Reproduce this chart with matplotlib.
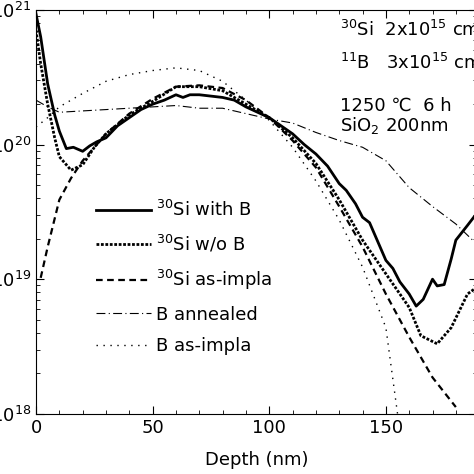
import matplotlib
matplotlib.use("Agg")
import matplotlib.pyplot as plt
import numpy as np
from matplotlib.ticker import MultipleLocator, LogLocator, NullFormatter

si_b_x = [0, 2, 5, 8, 10, 13, 16, 20, 23, 26, 30, 35, 40, 45, 50, 55, 60, 63, 66, 70, 75, 80, 85, 90, 95, 100, 105, 110, 115, 120, 125, 130, 133, 137, 140, 143, 147, 150, 153, 156, 160, 163, 166, 170, 172, 175, 178, 180, 185, 189]
si_b_y = [20.97, 20.8, 20.45, 20.22, 20.1, 19.97, 19.98, 19.95, 19.99, 20.02, 20.05, 20.14, 20.2, 20.26, 20.3, 20.33, 20.37, 20.35, 20.37, 20.37, 20.36, 20.35, 20.33, 20.28, 20.24, 20.2, 20.14, 20.08, 20.0, 19.93, 19.84, 19.71, 19.66, 19.56, 19.46, 19.42, 19.26, 19.14, 19.08, 18.98, 18.89, 18.8, 18.85, 19.0, 18.95, 18.96, 19.15, 19.29, 19.4, 19.49]
si_nob_x = [0, 2, 5, 8, 10, 15, 20, 25, 30, 40, 50, 60, 70, 80, 90, 100, 110, 120, 130, 140, 150, 160, 165, 172, 178, 185, 189]
si_nob_y = [20.85, 20.6, 20.3, 20.05, 19.91, 19.81, 19.85, 19.98, 20.08, 20.22, 20.32, 20.43, 20.43, 20.4, 20.3, 20.2, 20.05, 19.86, 19.59, 19.29, 19.04, 18.79, 18.58, 18.52, 18.64, 18.89, 18.94]
si_imp_x = [2, 5, 10, 15, 20, 25, 30, 40, 50, 60, 70, 80, 90, 100, 110, 120, 130, 140, 150, 160, 170, 180]
si_imp_y = [19.01, 19.24, 19.59, 19.75, 19.88, 19.98, 20.08, 20.23, 20.34, 20.43, 20.44, 20.42, 20.33, 20.2, 20.03, 19.83, 19.54, 19.24, 18.89, 18.57, 18.27, 18.05]
b_ann_x = [0, 5, 10, 20, 40, 60, 70, 80, 90, 100, 110, 120, 130, 140, 150, 160, 170, 180, 189]
b_ann_y = [20.33, 20.28, 20.24, 20.25, 20.27, 20.29, 20.27, 20.27, 20.23, 20.19, 20.16, 20.09, 20.03, 19.98, 19.88, 19.68, 19.54, 19.41, 19.26]
b_imp_x = [0, 5, 10, 20, 30, 40, 50, 60, 70, 80, 90, 100, 110, 120, 130, 140, 150, 155]
b_imp_y = [20.13, 20.2, 20.28, 20.38, 20.47, 20.52, 20.55, 20.57, 20.55, 20.47, 20.33, 20.18, 19.98, 19.73, 19.44, 19.09, 18.64, 18.0]

fig = plt.figure(figsize=(4.74, 4.74), dpi=100)
ax = fig.add_axes([0.076, 0.127, 0.93, 0.852])
p = lambda v: 10 ** np.array(v)
ax.plot(si_b_x, p(si_b_y), 'k-', lw=2, label=r'$^{30}$Si with B')
ax.plot(si_nob_x, p(si_nob_y), 'k', ls=(0, (1, 0.6)), lw=2, label=r'$^{30}$Si w/o B')
ax.plot(si_imp_x, p(si_imp_y), 'k', ls=(0, (3, 2)), lw=1.6, label=r'$^{30}$Si as-impla')
ax.plot(b_ann_x, p(b_ann_y), 'k', ls=(0, (8, 3, 1, 3)), lw=0.8, label='B annealed')
ax.plot(b_imp_x, p(b_imp_y), 'k', ls=(0, (1, 4)), lw=1, label='B as-impla')
ax.set_yscale('log')
ax.set_xlim(0, 189)
ax.set_ylim(1e18, 1e21)
ax.xaxis.set_major_locator(MultipleLocator(50))
ax.xaxis.set_minor_locator(MultipleLocator(10))
ax.yaxis.set_minor_locator(LogLocator(subs=np.arange(2, 10)))
ax.yaxis.set_minor_formatter(NullFormatter())
ax.tick_params(which='both', direction='in', top=True, right=True, labelsize=13)
ax.tick_params(which='major', length=6)
ax.tick_params(which='minor', length=3)
ax.set_xlabel('Depth (nm)', fontsize=13, labelpad=10)
ax.legend(loc='upper left', bbox_to_anchor=(0.1, 0.57), frameon=False, fontsize=13,
          handlelength=3.0, handletextpad=0.3, labelspacing=0.75)
ax.text(0.69, 0.935, r'$^{30}$Si  2x10$^{15}$ cm$^{-2}$', transform=ax.transAxes, fontsize=13)
ax.text(0.69, 0.855, r'$^{11}$B   3x10$^{15}$ cm$^{-2}$', transform=ax.transAxes, fontsize=13)
ax.text(0.69, 0.75, '1250 ℃  6 h', transform=ax.transAxes, fontsize=13)
ax.text(0.69, 0.7, r'SiO$_2$ 200nm', transform=ax.transAxes, fontsize=13)
fig.savefig('out.png', dpi=100)
